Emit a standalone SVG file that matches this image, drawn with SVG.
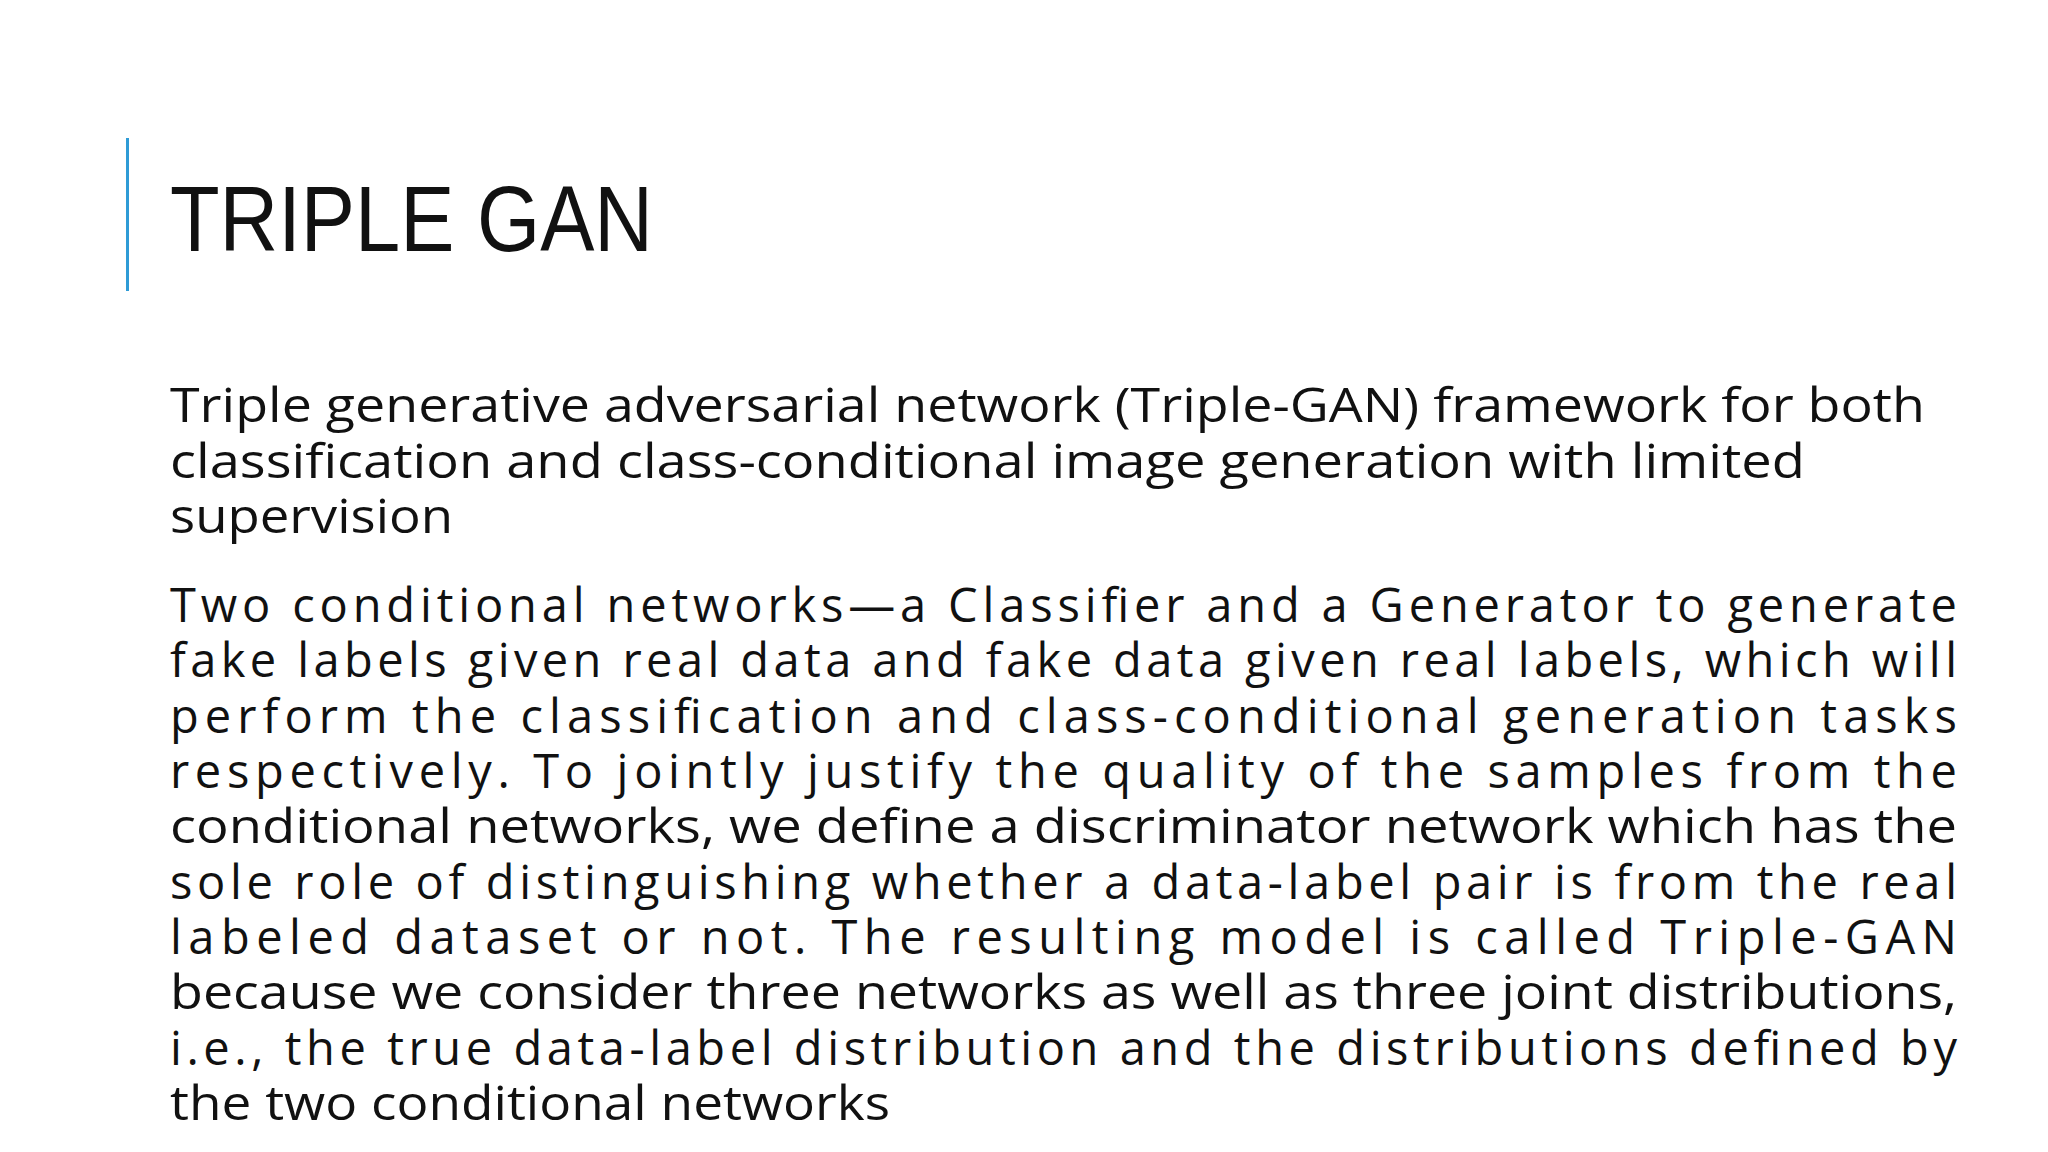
<svg xmlns="http://www.w3.org/2000/svg" width="2048" height="1152" viewBox="0 0 2048 1152">
<style>
.b{font-family:"Open Sans","Noto Sans",sans-serif;font-size:47px;fill:#111}
.t{font-family:"Liberation Sans",sans-serif;font-size:92px;fill:#111}
</style>
<rect width="2048" height="1152" fill="#fff"/>
<g id="title">
<rect x="126" y="138" width="3" height="153" fill="#2e9bd6"/>
<text class="t" x="170" y="251" textLength="483" lengthAdjust="spacingAndGlyphs">TRIPLE GAN</text>
</g>
<g id="body">
<text class="b" x="170" y="422" textLength="1755" lengthAdjust="spacingAndGlyphs">Triple generative adversarial network (Triple-GAN) framework for both</text>
<text class="b" x="170" y="478" textLength="1635" lengthAdjust="spacingAndGlyphs">classification and class-conditional image generation with limited</text>
<text class="b" x="170" y="533" textLength="283" lengthAdjust="spacingAndGlyphs">supervision</text>
<text class="b" x="170" y="622" textLength="1787" lengthAdjust="spacing">Two conditional networks—a Classifier and a Generator to generate</text>
<text class="b" x="170" y="677" textLength="1787" lengthAdjust="spacing">fake labels given real data and fake data given real labels, which will</text>
<text class="b" x="170" y="733" textLength="1787" lengthAdjust="spacing">perform the classification and class-conditional generation tasks</text>
<text class="b" x="170" y="788" textLength="1787" lengthAdjust="spacing">respectively. To jointly justify the quality of the samples from the</text>
<text class="b" x="170" y="843" textLength="1787" lengthAdjust="spacingAndGlyphs">conditional networks, we define a discriminator network which has the</text>
<text class="b" x="170" y="899" textLength="1787" lengthAdjust="spacing">sole role of distinguishing whether a data-label pair is from the real</text>
<text class="b" x="170" y="954" textLength="1787" lengthAdjust="spacing">labeled dataset or not. The resulting model is called Triple-GAN</text>
<text class="b" x="170" y="1009" textLength="1787" lengthAdjust="spacingAndGlyphs">because we consider three networks as well as three joint distributions,</text>
<text class="b" x="170" y="1065" textLength="1787" lengthAdjust="spacing">i.e., the true data-label distribution and the distributions defined by</text>
<text class="b" x="170" y="1120" textLength="720" lengthAdjust="spacingAndGlyphs">the two conditional networks</text>
</g>
</svg>
